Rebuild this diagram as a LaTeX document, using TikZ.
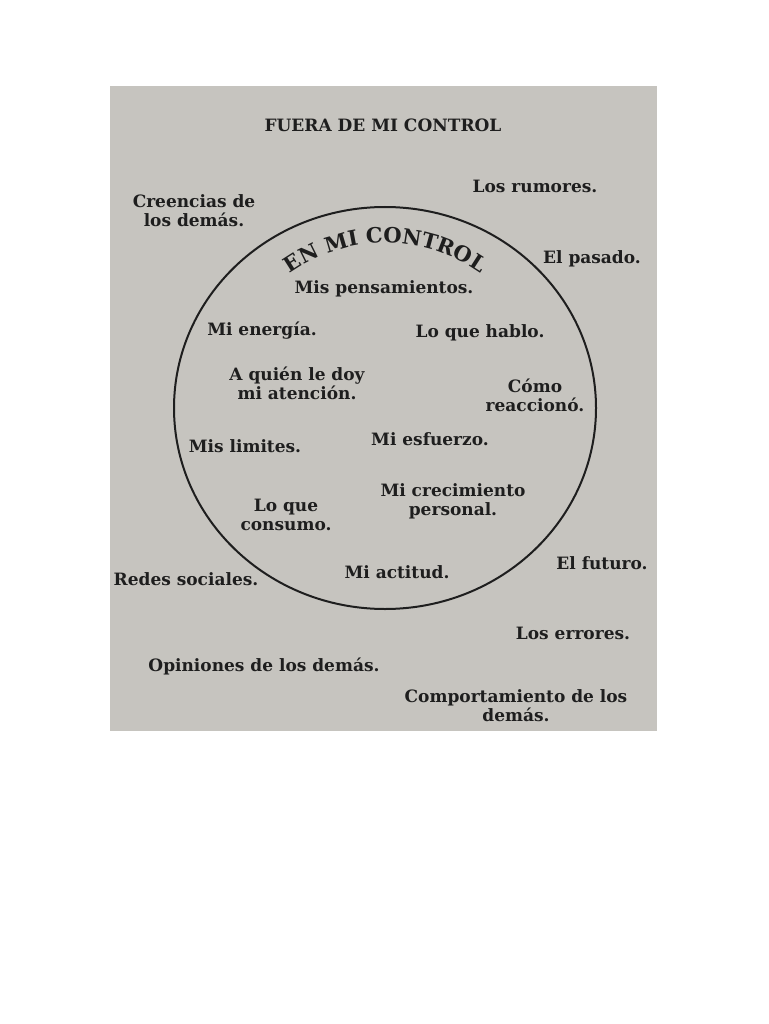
\documentclass[tikz,border=0pt]{standalone}
\usepackage{fontspec}
\setmainfont{DejaVu Serif}
\usetikzlibrary{decorations.text}
\definecolor{card}{HTML}{C6C4BF}
\definecolor{ink}{HTML}{1E1E1E}
\begin{document}
\begin{tikzpicture}[x=1pt,y=-1pt,
  lbl/.style={font=\bfseries\fontsize{17}{19}\selectfont,text=ink,align=center,inner sep=0pt}]
\useasboundingbox (0,0) rectangle (768,1024);
\fill[white] (0,0) rectangle (768,1024);
\fill[card] (110,86) rectangle (657,731);
\draw[ink,line width=2pt] (385,408) ellipse [x radius=211, y radius=201];
\path[decorate,decoration={text along path,text align=center,
  text={|\bfseries\fontsize{21}{24}\selectfont\color{ink}|EN MI CONTROL}}]
  (385,408) ++(-132:165) arc[start angle=-132,end angle=-48,radius=165];
\node[lbl] (t) at (383,125) {FUERA DE MI CONTROL};
\node[lbl] (a) at (194,211) {Creencias de\\los demás.};
\node[lbl] (b) at (535,186) {Los rumores.};
\node[lbl] (c) at (592,259) {El pasado.};
\node[lbl] (d) at (384,289) {Mis pensamientos.};
\node[lbl] (e) at (262,331) {Mi energía.};
\node[lbl] (f) at (480,333) {Lo que hablo.};
\node[lbl] (g) at (297,383) {A quién le doy\\mi atención.};
\node[lbl] (h) at (535,395) {Cómo\\reaccionó.};
\node[lbl] (i) at (245,446) {Mis limites.};
\node[lbl] (j) at (430,439) {Mi esfuerzo.};
\node[lbl] (k) at (286,515) {Lo que\\consumo.};
\node[lbl] (l) at (453,501) {Mi crecimiento\\personal.};
\node[lbl] (m) at (397,572) {Mi actitud.};
\node[lbl] (n) at (186,579) {Redes sociales.};
\node[lbl] (o) at (602,563) {El futuro.};
\node[lbl] (p) at (573,633) {Los errores.};
\node[lbl] (q) at (264,666) {Opiniones de los demás.};
\node[lbl] (r) at (516,706) {Comportamiento de los\\demás.};
\end{tikzpicture}
\end{document}
